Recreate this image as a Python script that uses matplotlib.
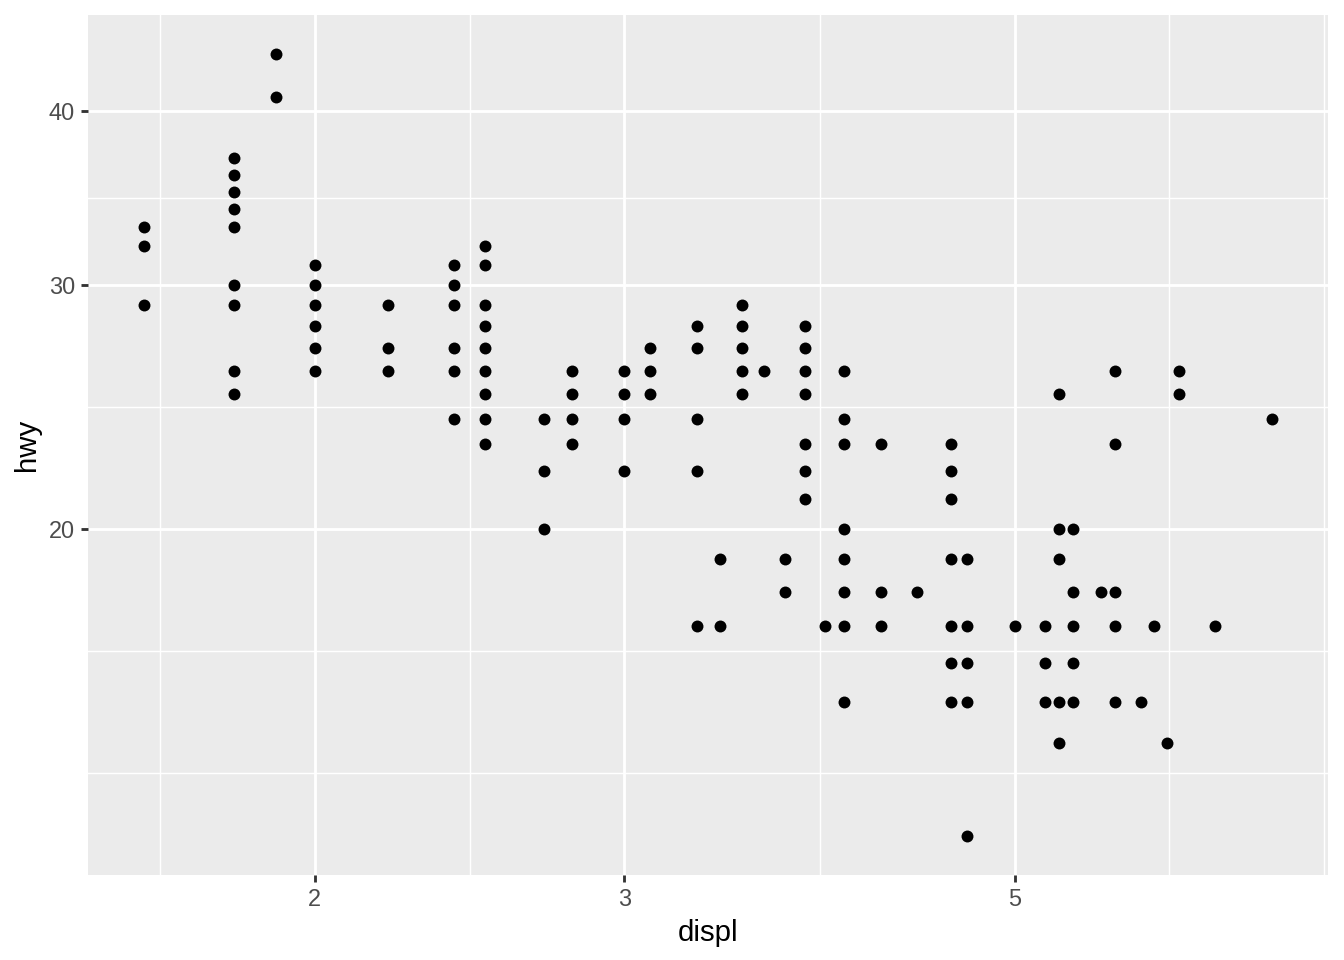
import numpy as np
import matplotlib
matplotlib.use("Agg")
import matplotlib.pyplot as plt
from matplotlib.ticker import FixedLocator, NullFormatter

plt.rcParams['font.family'] = ['Liberation Sans', 'DejaVu Sans']

# engine sizes and the distinct hwy values seen above each one
# (identical cars sit on top of each other, so only distinct points are listed)
displ_sizes = [1.6, 1.8, 1.9, 2.0, 2.2, 2.4, 2.5, 2.7, 2.8, 3.0, 3.1, 3.3,
               3.4, 3.5, 3.6, 3.7, 3.8, 3.9, 4.0, 4.2, 4.4, 4.6, 4.7, 5.0,
               5.2, 5.3, 5.4, 5.6, 5.7, 5.9, 6.0, 6.1, 6.2, 6.5, 7.0]
hwy_per_size = [
    [33, 32, 29],
    [37, 36, 35, 34, 33, 30, 29, 26, 25],
    [44, 41],
    [31, 30, 29, 28, 27, 26],
    [29, 27, 26],
    [31, 30, 29, 27, 26, 24],
    [32, 31, 29, 28, 27, 26, 25, 24, 23],
    [24, 22, 20],
    [26, 25, 24, 23],
    [26, 25, 24, 22],
    [27, 26, 25],
    [28, 27, 24, 22, 17],
    [19, 17],
    [29, 28, 27, 26, 25],
    [26],
    [19, 18],
    [28, 27, 26, 25, 23, 22, 21],
    [17],
    [26, 24, 23, 20, 19, 18, 17, 15],
    [23, 18, 17],
    [18],
    [23, 22, 21, 19, 17, 16, 15],
    [19, 17, 16, 15, 12],
    [17],
    [17, 16, 15],
    [25, 20, 19, 15, 14],
    [20, 18, 17, 16, 15],
    [18],
    [26, 23, 18, 17, 15],
    [15],
    [17],
    [14],
    [26, 25],
    [17],
    [24],
]

x_breaks = [2, 3, 5]
y_breaks = [20, 30, 40]

displ = []
hwy = []
for d, hs in zip(displ_sizes, hwy_per_size):
    for h in hs:
        displ.append(d)
        hwy.append(h)
displ = np.array(displ)
hwy = np.array(hwy)


def log_limits(v, mult=0.05):
    lo, hi = np.log10(v.min()), np.log10(v.max())
    pad = (hi - lo) * mult
    return 10 ** (lo - pad), 10 ** (hi + pad)


def minor_breaks(b):
    # ggplot style: extend by first step on each side, then midpoints in log space
    lb = np.log10(b)
    step = lb[1] - lb[0]
    lb = np.concatenate([[lb[0] - step], lb, [lb[-1] + step]])
    mids = (lb[:-1] + lb[1:]) / 2
    allb = np.sort(np.concatenate([lb, mids]))
    return 10 ** allb


fig = plt.figure(figsize=(7, 5), dpi=192)
ax = fig.add_axes([88 / 1344, 1 - 875 / 960, 1240 / 1344, 860 / 960])
ax.set_facecolor('#EBEBEB')

ax.scatter(displ, hwy, s=20, c='black', linewidths=0, zorder=3)

ax.set_xscale('log')
ax.set_yscale('log')
ax.set_xlim(*log_limits(displ))
ax.set_ylim(*log_limits(hwy))

ax.xaxis.set_major_locator(FixedLocator(x_breaks))
ax.yaxis.set_major_locator(FixedLocator(y_breaks))
ax.xaxis.set_minor_locator(FixedLocator(minor_breaks(x_breaks)))
ax.yaxis.set_minor_locator(FixedLocator(minor_breaks(y_breaks)))
ax.set_xticklabels([str(b) for b in x_breaks])
ax.set_yticklabels([str(b) for b in y_breaks])
ax.xaxis.set_minor_formatter(NullFormatter())
ax.yaxis.set_minor_formatter(NullFormatter())

ax.set_axisbelow(True)
ax.grid(which='major', color='white', linewidth=1.07)
ax.grid(which='minor', color='white', linewidth=0.53)

for s in ax.spines.values():
    s.set_visible(False)

ax.tick_params(which='major', length=2.75, width=1.07, color='#333333',
               labelsize=8.8, labelcolor='#4D4D4D', pad=2.2)
ax.tick_params(which='minor', length=0)

ax.set_xlabel('displ', fontsize=11, color='black', labelpad=2.75)
ax.set_ylabel('hwy', fontsize=11, color='black', labelpad=2.75)

fig.savefig('out.png', dpi=192)
